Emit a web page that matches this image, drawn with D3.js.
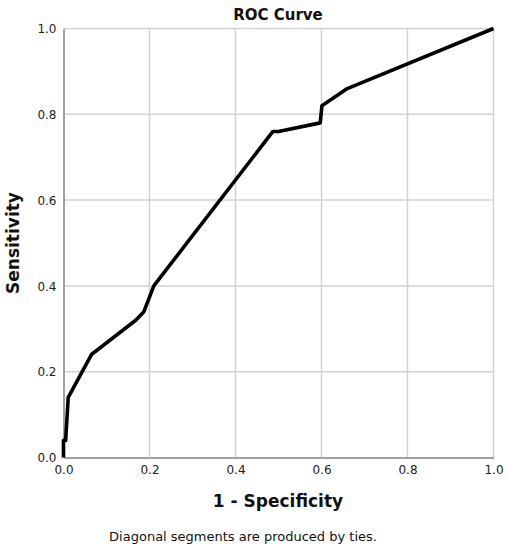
<!DOCTYPE html>
<html>
<head>
<meta charset="utf-8">
<script src="https://cdn.jsdelivr.net/npm/d3@7"></script>
<style>
  body { margin: 0; background: #fff; }
  text { font-family: "DejaVu Sans", sans-serif; fill: #111; }
</style>
</head>
<body>
<svg id="chart" width="508" height="550"></svg>
<script>
// ROC curve points
var fpr = [0, 0, 0.005, 0.011, 0.065, 0.168, 0.187, 0.21, 0.487, 0.5, 0.597, 0.601, 0.66, 1.0];
var tpr = [0, 0.04, 0.04, 0.14, 0.24, 0.32, 0.34, 0.40, 0.76, 0.76, 0.78, 0.82, 0.86, 1.0];
var ticks = [0, 0.2, 0.4, 0.6, 0.8, 1.0];

var svg = d3.select("#chart");

var xScale = d3.scaleLinear().domain([0, 1]).range([63.5, 493.5]),
    yScale = d3.scaleLinear().domain([0, 1]).range([457.5, 28.5]);

// grid
svg.append("g")
  .selectAll("line.gx")
  .data(ticks.slice(1))
  .enter()
  .append("line")
    .attr("x1", d => xScale(d)).attr("x2", d => xScale(d))
    .attr("y1", yScale(0)).attr("y2", yScale(1))
    .style("stroke", "#d2d2d2").style("stroke-width", 1.5);

svg.append("g")
  .selectAll("line.gy")
  .data(ticks.slice(1))
  .enter()
  .append("line")
    .attr("x1", xScale(0)).attr("x2", xScale(1))
    .attr("y1", d => yScale(d)).attr("y2", d => yScale(d))
    .style("stroke", "#d2d2d2").style("stroke-width", 1.5);

// axes
var xAxis = d3.axisBottom(xScale).tickValues(ticks).tickFormat(d3.format(".1f")).tickSize(0).tickPadding(8),
    yAxis = d3.axisLeft(yScale).tickValues(ticks).tickFormat(d3.format(".1f")).tickSize(0).tickPadding(7);

var gx = svg.append("g")
  .attr("transform", "translate(0," + yScale(0) + ")")
  .call(xAxis);
var gy = svg.append("g")
  .attr("transform", "translate(" + xScale(0) + ",0)")
  .call(yAxis);

[gx, gy].forEach(function(g) {
  g.select(".domain").style("stroke", "#a0a0a0").style("stroke-width", 2);
  g.selectAll("text").style("font-size", "12px").style("fill", "#222")
    .style("font-family", "DejaVu Sans, sans-serif");
});
gy.selectAll("text").attr("dy", "0.35em");

// curve
var line = d3.line()
  .x((d, i) => xScale(fpr[i]))
  .y((d, i) => yScale(tpr[i]));

svg.append("path")
  .attr("d", line(fpr))
  .style("fill", "none")
  .style("stroke", "#000")
  .style("stroke-width", 3.6)
  .style("stroke-linejoin", "round");

// titles
svg.append("text")
  .attr("x", 278).attr("y", 20)
  .attr("text-anchor", "middle")
  .style("font-size", "15px").style("font-weight", "bold")
  .text("ROC Curve");

svg.append("text")
  .attr("x", 278).attr("y", 507)
  .attr("text-anchor", "middle")
  .style("font-size", "17px").style("font-weight", "bold")
  .text("1 - Specificity");

svg.append("text")
  .attr("transform", "translate(19,243) rotate(-90)")
  .attr("text-anchor", "middle")
  .style("font-size", "17px").style("font-weight", "bold")
  .text("Sensitivity");

svg.append("text")
  .attr("x", 243).attr("y", 541)
  .attr("text-anchor", "middle")
  .style("font-size", "13px")
  .text("Diagonal segments are produced by ties.");
</script>
</body>
</html>
